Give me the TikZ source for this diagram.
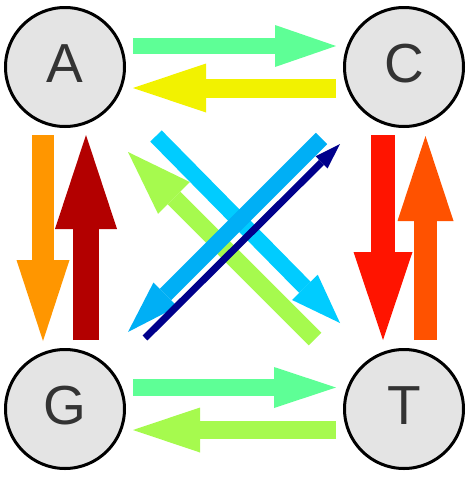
\documentclass[tikz,border=0pt]{standalone}
\usepackage{fontspec}
\setmainfont{Liberation Sans}
\usetikzlibrary{arrows.meta,calc}
\definecolor{mint}{RGB}{94,255,150}
\definecolor{lgreen}{RGB}{166,250,78}
\definecolor{yel}{RGB}{242,242,0}
\definecolor{orng}{RGB}{255,150,0}
\definecolor{dred}{RGB}{179,0,0}
\definecolor{rred}{RGB}{255,20,0}
\definecolor{ored}{RGB}{255,82,0}
\definecolor{cyn}{RGB}{0,204,255}
\definecolor{sky}{RGB}{0,175,245}
\definecolor{navy}{RGB}{0,0,140}
\definecolor{nodefill}{RGB}{228,228,228}
\definecolor{txt}{RGB}{51,51,51}
\tikzset{
  base/.style={circle,draw=black,line width=3pt,fill=nodefill,minimum size=119pt,
    inner sep=0pt,text=txt,font=\fontsize{55}{60}\selectfont,text height=40pt,text depth=10pt},
  blk/.style n args={4}{draw=#1,line width=#2pt,
    -{Triangle[width=#3pt,length=#4pt,line width=0pt]}}
}
\begin{document}
\begin{tikzpicture}[x=1pt,y=-1pt]
\useasboundingbox (0,0) rectangle (474,482);
\node[base] (A) at (65,67) {A};
\node[base] (C) at (404,67) {C};
\node[base] (G) at (65,409) {G};
\node[base] (T) at (404,409) {T};
% horizontal
\draw[blk={mint}{16}{42}{61}] ($(A)+(68,-21)$) -- ($(C)+(-68,-21)$);
\draw[blk={yel}{19}{49}{73}] ($(C)+(-68,21)$) -- ($(A)+(68,21)$);
\draw[blk={mint}{17}{41}{62}] ($(G)+(68,-21.5)$) -- ($(T)+(-68,-21.5)$);
\draw[blk={lgreen}{18}{45}{67}] ($(T)+(-68,21)$) -- ($(G)+(68,21)$);
% vertical
\draw[blk={orng}{22}{53}{81}] ($(A)+(-22,68)$) -- ($(G)+(-22,-68)$);
\draw[blk={dred}{26}{62}{94}] ($(G)+(21,-69)$) -- ($(A)+(21,68)$);
\draw[blk={rred}{24}{59}{88}] ($(C)+(-21,68)$) -- ($(T)+(-21,-69)$);
\draw[blk={ored}{23}{56}{85}] ($(T)+(21.5,-69)$) -- ($(C)+(21.5,69)$);
% diagonals
\draw[blk={lgreen}{18}{45}{65}] ($(T)+(-89,-70)$) -- ($(A)+(63,85)$);
\draw[blk={cyn}{16}{36}{50}] ($(A)+(91,69)$) -- ($(T)+(-64,-86)$);
\draw[blk={sky}{16}{34}{53}] ($(C)+(-82.5,71.5)$) -- ($(G)+(63,-77)$);
\draw[blk={navy}{7}{17}{26}] ($(G)+(80,-71)$) -- ($(C)+(-64,77)$);
\end{tikzpicture}
\end{document}
